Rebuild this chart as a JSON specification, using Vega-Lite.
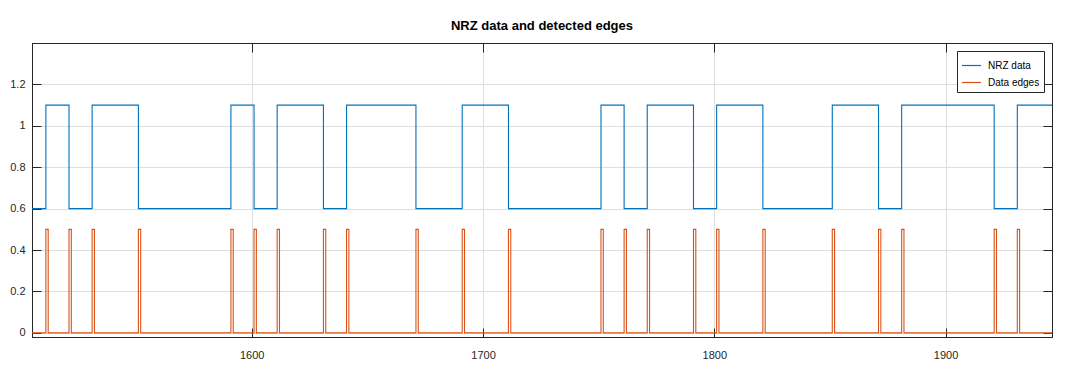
{
  "$schema": "https://vega.github.io/schema/vega-lite/v6.json",
  "width": 1020,
  "height": 294,
  "autosize": {"type": "none"},
  "padding": {"left": 32, "top": 43, "right": 20, "bottom": 32},
  "background": "white",
  "title": {"text": "NRZ data and detected edges", "font": "Liberation Sans", "fontSize": 13, "fontWeight": "bold", "color": "#000000", "anchor": "middle", "offset": 10},
  "config": {
    "view": {"stroke": "#262626", "strokeWidth": 1},
    "axis": {"labelFont": "Liberation Sans", "labelFontSize": 11, "labelColor": "#262626", "domainColor": "#262626", "tickColor": "#262626", "gridColor": "#dedede", "gridWidth": 1, "title": null}
  },
  "datasets": {
    "nrz": [
      {"t": 1505, "v": 0.6}, {"t": 1511, "v": 1.1}, {"t": 1521, "v": 0.6}, {"t": 1531, "v": 1.1}, {"t": 1551, "v": 0.6},
      {"t": 1591, "v": 1.1}, {"t": 1601, "v": 0.6}, {"t": 1611, "v": 1.1}, {"t": 1631, "v": 0.6}, {"t": 1641, "v": 1.1},
      {"t": 1671, "v": 0.6}, {"t": 1691, "v": 1.1}, {"t": 1711, "v": 0.6}, {"t": 1751, "v": 1.1}, {"t": 1761, "v": 0.6},
      {"t": 1771, "v": 1.1}, {"t": 1791, "v": 0.6}, {"t": 1801, "v": 1.1}, {"t": 1821, "v": 0.6}, {"t": 1851, "v": 1.1},
      {"t": 1871, "v": 0.6}, {"t": 1881, "v": 1.1}, {"t": 1921, "v": 0.6}, {"t": 1931, "v": 1.1}, {"t": 1946, "v": 1.1}
    ],
    "edges": [
      {"t": 1505, "v": 0}, {"t": 1511, "v": 0.5}, {"t": 1512, "v": 0}, {"t": 1521, "v": 0.5}, {"t": 1522, "v": 0},
      {"t": 1531, "v": 0.5}, {"t": 1532, "v": 0}, {"t": 1551, "v": 0.5}, {"t": 1552, "v": 0},
      {"t": 1591, "v": 0.5}, {"t": 1592, "v": 0}, {"t": 1601, "v": 0.5}, {"t": 1602, "v": 0},
      {"t": 1611, "v": 0.5}, {"t": 1612, "v": 0}, {"t": 1631, "v": 0.5}, {"t": 1632, "v": 0},
      {"t": 1641, "v": 0.5}, {"t": 1642, "v": 0}, {"t": 1671, "v": 0.5}, {"t": 1672, "v": 0},
      {"t": 1691, "v": 0.5}, {"t": 1692, "v": 0}, {"t": 1711, "v": 0.5}, {"t": 1712, "v": 0},
      {"t": 1751, "v": 0.5}, {"t": 1752, "v": 0}, {"t": 1761, "v": 0.5}, {"t": 1762, "v": 0},
      {"t": 1771, "v": 0.5}, {"t": 1772, "v": 0}, {"t": 1791, "v": 0.5}, {"t": 1792, "v": 0},
      {"t": 1801, "v": 0.5}, {"t": 1802, "v": 0}, {"t": 1821, "v": 0.5}, {"t": 1822, "v": 0},
      {"t": 1851, "v": 0.5}, {"t": 1852, "v": 0}, {"t": 1871, "v": 0.5}, {"t": 1872, "v": 0},
      {"t": 1881, "v": 0.5}, {"t": 1882, "v": 0}, {"t": 1921, "v": 0.5}, {"t": 1922, "v": 0},
      {"t": 1931, "v": 0.5}, {"t": 1932, "v": 0}, {"t": 1946, "v": 0}
    ]
  },
  "layer": [
    {
      "data": {"name": "nrz"},
      "transform": [{"calculate": "'NRZ data'", "as": "series"}],
      "mark": {"type": "line", "interpolate": "step-after", "strokeWidth": 1.1, "clip": true},
      "encoding": {
        "x": {"field": "t", "type": "quantitative", "scale": {"domain": [1505, 1946], "nice": false, "zero": false},
              "axis": {"orient": "bottom", "values": [1600, 1700, 1800, 1900], "format": "d", "grid": true, "tickSize": -9, "labelPadding": 21, "domain": true}},
        "y": {"field": "v", "type": "quantitative", "scale": {"domain": [-0.02, 1.4], "nice": false, "zero": false},
              "axis": {"orient": "left", "values": [0, 0.2, 0.4, 0.6, 0.8, 1, 1.2], "format": "~g", "grid": true, "tickSize": -9, "labelPadding": 16}},
        "color": {"field": "series", "type": "nominal",
                  "scale": {"domain": ["NRZ data", "Data edges"], "range": ["#0072BD", "#D95319"]},
                  "legend": {"orient": "top-right", "offset": 8, "title": null, "symbolType": "stroke", "symbolSize": 360, "symbolStrokeWidth": 1.2,
                             "labelFont": "Liberation Sans", "labelFontSize": 10, "labelColor": "#000000", "strokeColor": "#262626", "fillColor": "white",
                             "padding": 4, "rowPadding": 1, "labelOffset": 6}}
      }
    },
    {
      "data": {"name": "edges"},
      "transform": [{"calculate": "'Data edges'", "as": "series"}],
      "mark": {"type": "line", "interpolate": "step-after", "strokeWidth": 1.1, "clip": true},
      "encoding": {
        "x": {"field": "t", "type": "quantitative",
              "axis": {"orient": "top", "values": [1600, 1700, 1800, 1900], "grid": false, "tickSize": -9, "labels": false, "domain": true}},
        "y": {"field": "v", "type": "quantitative",
              "axis": {"orient": "right", "values": [0, 0.2, 0.4, 0.6, 0.8, 1, 1.2], "grid": false, "tickSize": -9, "labels": false}},
        "color": {"field": "series", "type": "nominal"}
      }
    }
  ],
  "resolve": {"axis": {"x": "independent", "y": "independent"}}
}
